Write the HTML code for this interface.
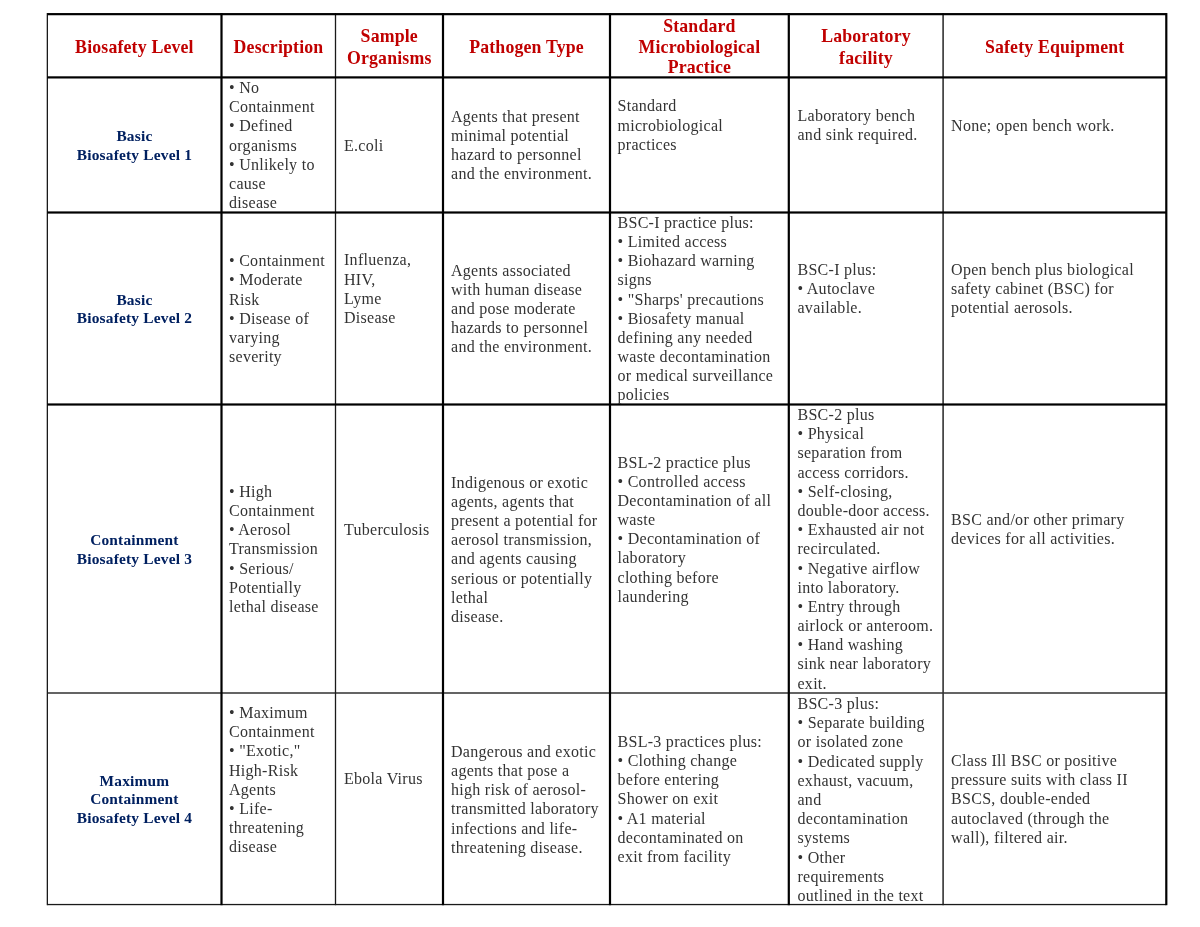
<!DOCTYPE html>
<html lang="en">
<head>
<meta charset="utf-8">
<title>Biosafety Levels</title>
<style>
html,body{margin:0;padding:0;background:#fff;}
body{width:1200px;height:927px;position:relative;overflow:hidden;font-family:"Liberation Serif","Times New Roman",serif;color:#333;}
.grid{position:absolute;left:0;top:0;width:1200px;height:927px;}
.c{position:absolute;display:flex;flex-direction:column;justify-content:center;box-sizing:border-box;white-space:pre;}
.c div{min-height:1em;}
.b{font-size:16.0px;line-height:19.2px;letter-spacing:0.28px;}
.b div{height:19.2px;}
.h{font-size:17.8px;line-height:20.6px;font-weight:bold;color:#c00000;text-align:center;align-items:center;letter-spacing:0.17px;}
.h div{height:20.6px;}
.f{font-size:15.4px;line-height:18.5px;font-weight:bold;color:#002060;text-align:center;align-items:center;letter-spacing:0.2px;}
.f div{height:18.5px;}
</style>
</head>
<body>
<svg class="grid" aria-hidden="true" width="1200" height="927" viewBox="0 0 1200 927">
<rect x="47.35" y="692.15" width="1118.95" height="1.7" fill="#4a4a4a"/>
<rect x="942.30" y="13.05" width="1.6" height="892.15" fill="#333"/>
<rect x="46.70" y="13.05" width="1.3" height="892.15" fill="#1a1a1a"/>
<rect x="334.85" y="13.05" width="1.3" height="892.15" fill="#1a1a1a"/>
<rect x="47.35" y="903.90" width="1118.95" height="1.3" fill="#1a1a1a"/>
<rect x="220.40" y="13.05" width="2.2" height="892.15" fill="#000"/>
<rect x="441.90" y="13.05" width="2.2" height="892.15" fill="#000"/>
<rect x="608.90" y="13.05" width="2.2" height="892.15" fill="#000"/>
<rect x="787.70" y="13.05" width="2.2" height="892.15" fill="#000"/>
<rect x="1165.20" y="13.05" width="2.2" height="892.15" fill="#000"/>
<rect x="47.35" y="13.05" width="1118.95" height="2.2" fill="#000"/>
<rect x="47.35" y="76.30" width="1118.95" height="2.2" fill="#000"/>
<rect x="47.35" y="211.40" width="1118.95" height="2.2" fill="#000"/>
<rect x="47.35" y="403.40" width="1118.95" height="2.2" fill="#000"/>
</svg>
<div role="table" aria-label="Biosafety levels">
<div role="row">
<div class="c h" role="columnheader" style="left:47.35px;top:15.65px;width:174.15px;height:63.25px;"><div>Biosafety Level</div></div>
<div class="c h" role="columnheader" style="left:221.50px;top:15.65px;width:114.00px;height:63.25px;"><div>Description</div></div>
<div class="c h" role="columnheader" style="left:335.50px;top:15.15px;width:107.50px;height:63.25px;"><div style="height:22.2px;line-height:22.2px">Sample</div><div style="height:22.2px;line-height:22.2px">Organisms</div></div>
<div class="c h" role="columnheader" style="left:443.00px;top:15.65px;width:167.00px;height:63.25px;"><div>Pathogen Type</div></div>
<div class="c h" role="columnheader" style="left:610.00px;top:15.50px;width:178.80px;height:63.25px;"><div>Standard</div><div>Microbiological</div><div>Practice</div></div>
<div class="c h" role="columnheader" style="left:788.80px;top:15.15px;width:154.30px;height:63.25px;"><div style="height:22.2px;line-height:22.2px">Laboratory</div><div style="height:22.2px;line-height:22.2px">facility</div></div>
<div class="c h" role="columnheader" style="left:943.10px;top:15.65px;width:223.20px;height:63.25px;"><div>Safety Equipment</div></div>
</div>
<div role="row">
<div class="c f" role="rowheader" style="left:47.35px;top:78.30px;width:174.15px;height:135.10px;"><div>Basic</div><div>Biosafety Level 1</div></div>
<div class="c b" role="cell" style="left:221.50px;top:77.60px;width:114.00px;height:135.10px;padding-left:7.5px;"><div>• No</div><div>Containment</div><div>• Defined</div><div>organisms</div><div>• Unlikely to</div><div>cause</div><div>disease</div></div>
<div class="c b" role="cell" style="left:335.50px;top:77.60px;width:107.50px;height:135.10px;padding-left:8.5px;"><div>E.coli</div></div>
<div class="c b" role="cell" style="left:443.00px;top:77.60px;width:167.00px;height:135.10px;padding-left:8.0px;"><div>Agents that present</div><div>minimal potential</div><div>hazard to personnel</div><div>and the environment.</div></div>
<div class="c b" role="cell" style="left:610.00px;top:76.80px;width:178.80px;height:135.10px;padding-left:7.5px;"><div>Standard</div><div>microbiological</div><div>practices</div><div>&nbsp;</div><div>&nbsp;</div></div>
<div class="c b" role="cell" style="left:788.80px;top:76.80px;width:154.30px;height:135.10px;padding-left:8.7px;"><div>Laboratory bench</div><div>and sink required.</div><div>&nbsp;</div><div>&nbsp;</div></div>
<div class="c b" role="cell" style="left:943.10px;top:76.80px;width:223.20px;height:135.10px;padding-left:8.0px;"><div>None; open bench work.</div><div>&nbsp;</div><div>&nbsp;</div></div>
</div>
<div role="row">
<div class="c f" role="rowheader" style="left:47.35px;top:213.40px;width:174.15px;height:192.00px;"><div>Basic</div><div>Biosafety Level 2</div></div>
<div class="c b" role="cell" style="left:221.50px;top:212.70px;width:114.00px;height:192.00px;padding-left:7.5px;"><div>• Containment</div><div>• Moderate</div><div>Risk</div><div>• Disease of</div><div>varying</div><div>severity</div></div>
<div class="c b" role="cell" style="left:335.50px;top:211.90px;width:107.50px;height:192.00px;padding-left:8.5px;"><div>Influenza,</div><div>HIV,</div><div>Lyme</div><div>Disease</div><div>&nbsp;</div><div>&nbsp;</div></div>
<div class="c b" role="cell" style="left:443.00px;top:212.70px;width:167.00px;height:192.00px;padding-left:8.0px;"><div>Agents associated</div><div>with human disease</div><div>and pose moderate</div><div>hazards to personnel</div><div>and the environment.</div></div>
<div class="c b" role="cell" style="left:610.00px;top:212.70px;width:178.80px;height:192.00px;padding-left:7.5px;"><div>BSC-I practice plus:</div><div>• Limited access</div><div>• Biohazard warning</div><div>signs</div><div>• &quot;Sharps' precautions</div><div>• Biosafety manual</div><div>defining any needed</div><div>waste decontamination</div><div>or medical surveillance</div><div>policies</div></div>
<div class="c b" role="cell" style="left:788.80px;top:211.90px;width:154.30px;height:192.00px;padding-left:8.7px;"><div>BSC-I plus:</div><div>• Autoclave</div><div>available.</div><div>&nbsp;</div><div>&nbsp;</div></div>
<div class="c b" role="cell" style="left:943.10px;top:211.90px;width:223.20px;height:192.00px;padding-left:8.0px;"><div>Open bench plus biological</div><div>safety cabinet (BSC) for</div><div>potential aerosols.</div><div>&nbsp;</div><div>&nbsp;</div></div>
</div>
<div role="row">
<div class="c f" role="rowheader" style="left:47.35px;top:405.40px;width:174.15px;height:288.50px;"><div>Containment</div><div>Biosafety Level 3</div></div>
<div class="c b" role="cell" style="left:221.50px;top:404.70px;width:114.00px;height:288.50px;padding-left:7.5px;"><div>• High</div><div>Containment</div><div>• Aerosol</div><div>Transmission</div><div>• Serious/</div><div>Potentially</div><div>lethal disease</div></div>
<div class="c b" role="cell" style="left:335.50px;top:404.20px;width:107.50px;height:288.50px;padding-left:8.5px;"><div>Tuberculosis</div><div>&nbsp;</div><div>&nbsp;</div></div>
<div class="c b" role="cell" style="left:443.00px;top:405.20px;width:167.00px;height:288.50px;padding-left:8.0px;"><div>Indigenous or exotic</div><div>agents, agents that</div><div>present a potential for</div><div>aerosol transmission,</div><div>and agents causing</div><div>serious or potentially</div><div>lethal</div><div>disease.</div></div>
<div class="c b" role="cell" style="left:610.00px;top:404.20px;width:178.80px;height:288.50px;padding-left:7.5px;"><div>BSL-2 practice plus</div><div>• Controlled access</div><div>Decontamination of all</div><div>waste</div><div>• Decontamination of</div><div>laboratory</div><div>clothing before</div><div>laundering</div><div>&nbsp;</div><div>&nbsp;</div></div>
<div class="c b" role="cell" style="left:788.80px;top:404.70px;width:154.30px;height:288.50px;padding-left:8.7px;"><div>BSC-2 plus</div><div>• Physical</div><div>separation from</div><div>access corridors.</div><div>• Self-closing,</div><div>double-door access.</div><div>• Exhausted air not</div><div>recirculated.</div><div>• Negative airflow</div><div>into laboratory.</div><div>• Entry through</div><div>airlock or anteroom.</div><div>• Hand washing</div><div>sink near laboratory</div><div>exit.</div></div>
<div class="c b" role="cell" style="left:943.10px;top:404.40px;width:223.20px;height:288.50px;padding-left:8.0px;"><div>BSC and/or other primary</div><div>devices for all activities.</div><div>&nbsp;</div><div>&nbsp;</div></div>
</div>
<div role="row">
<div class="c f" role="rowheader" style="left:47.35px;top:693.90px;width:174.15px;height:211.55px;"><div>Maximum</div><div>Containment</div><div>Biosafety Level 4</div></div>
<div class="c b" role="cell" style="left:221.50px;top:693.20px;width:114.00px;height:211.55px;padding-left:7.5px;"><div>• Maximum</div><div>Containment</div><div>• &quot;Exotic,&quot;</div><div>High-Risk</div><div>Agents</div><div>• Life-</div><div>threatening</div><div>disease</div><div>&nbsp;</div><div>&nbsp;</div></div>
<div class="c b" role="cell" style="left:335.50px;top:692.40px;width:107.50px;height:211.55px;padding-left:8.5px;"><div>Ebola Virus</div><div>&nbsp;</div><div>&nbsp;</div></div>
<div class="c b" role="cell" style="left:443.00px;top:693.70px;width:167.00px;height:211.55px;padding-left:8.0px;"><div>Dangerous and exotic</div><div>agents that pose a</div><div>high risk of aerosol-</div><div>transmitted laboratory</div><div>infections and life-</div><div>threatening disease.</div></div>
<div class="c b" role="cell" style="left:610.00px;top:693.20px;width:178.80px;height:211.55px;padding-left:7.5px;"><div>BSL-3 practices plus:</div><div>• Clothing change</div><div>before entering</div><div>Shower on exit</div><div>• A1 material</div><div>decontaminated on</div><div>exit from facility</div></div>
<div class="c b" role="cell" style="left:788.80px;top:693.80px;width:154.30px;height:211.55px;padding-left:8.7px;"><div>BSC-3 plus:</div><div>• Separate building</div><div>or isolated zone</div><div>• Dedicated supply</div><div>exhaust, vacuum,</div><div>and</div><div>decontamination</div><div>systems</div><div>• Other</div><div>requirements</div><div>outlined in the text</div></div>
<div class="c b" role="cell" style="left:943.10px;top:693.20px;width:223.20px;height:211.55px;padding-left:8.0px;"><div>Class Ill BSC or positive</div><div>pressure suits with class II</div><div>BSCS, double-ended</div><div>autoclaved (through the</div><div>wall), filtered air.</div></div>
</div>
</div>
</body>
</html>
